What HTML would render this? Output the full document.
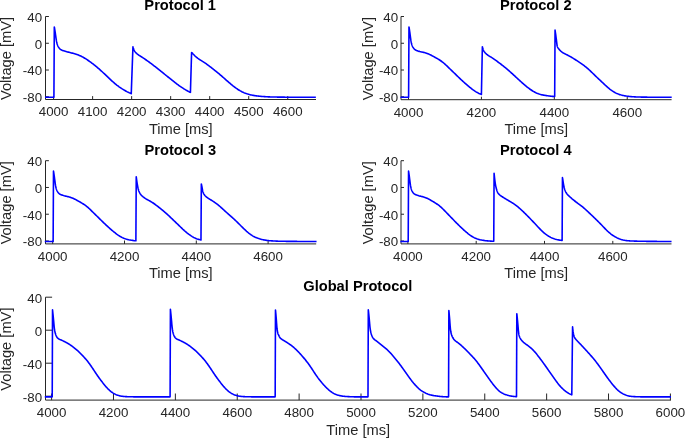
<!DOCTYPE html>
<html><head><meta charset="utf-8"><title>Protocols</title>
<style>html,body{margin:0;padding:0;background:#fff}body{width:685px;height:438px;overflow:hidden}</style>
</head><body>
<svg width="685" height="438" viewBox="0 0 685 438" style="display:block;font-family:'Liberation Sans', Arial, Helvetica, sans-serif">
<rect width="685" height="438" fill="#fff"/>
<g><path d="M45.5 16.5V99.5H316" fill="none" stroke="#262626" stroke-width="1"/>
<path d="M45.5 16.50h3.4M45.5 43.26h3.4M45.5 70.02h3.4M45.5 96.78h3.4M53.60 99.5v-3.4M92.62 99.5v-3.4M131.65 99.5v-3.4M170.67 99.5v-3.4M209.70 99.5v-3.4M248.72 99.5v-3.4M287.75 99.5v-3.4" fill="none" stroke="#262626" stroke-width="1"/>
<polyline points="45.01,97.32 53.91,97.32 54.30,26.94 54.50,27.99 54.69,29.12 54.89,30.31 55.08,31.57 55.28,32.93 55.47,34.30 55.67,35.63 55.86,37.02 56.06,38.42 56.25,39.74 56.45,40.94 56.64,41.92 56.84,42.74 57.03,43.49 57.23,44.17 57.42,44.78 57.62,45.32 57.81,45.80 58.01,46.22 58.20,46.61 58.40,46.94 58.60,47.25 58.79,47.54 58.99,47.82 59.18,48.08 59.38,48.32 59.57,48.55 59.77,48.76 59.96,48.94 60.16,49.11 60.35,49.27 60.55,49.42 60.74,49.56 60.94,49.70 61.13,49.81 61.33,49.92 61.52,50.02 61.72,50.12 61.91,50.20 62.11,50.28 62.30,50.36 62.50,50.42 62.69,50.50 62.89,50.56 63.08,50.63 63.28,50.69 63.47,50.75 63.67,50.80 64.45,51.03 65.23,51.26 66.01,51.49 66.79,51.71 67.57,51.92 68.35,52.13 69.13,52.33 69.91,52.53 70.69,52.72 71.47,52.92 72.25,53.12 73.03,53.32 73.81,53.54 74.60,53.76 75.38,53.99 76.16,54.24 76.94,54.50 77.72,54.78 78.50,55.08 79.28,55.40 80.06,55.74 80.84,56.09 81.62,56.47 82.40,56.87 83.18,57.29 83.96,57.73 84.74,58.20 85.52,58.68 86.30,59.18 87.08,59.70 87.86,60.23 88.64,60.77 89.42,61.32 90.21,61.87 90.99,62.44 91.77,63.02 92.55,63.60 93.33,64.20 94.11,64.81 94.89,65.43 95.67,66.06 96.45,66.70 97.23,67.36 98.01,68.03 98.79,68.70 99.57,69.39 100.35,70.09 101.13,70.80 101.91,71.51 102.69,72.23 103.47,72.96 104.25,73.69 105.03,74.42 105.82,75.16 106.60,75.91 107.38,76.66 108.16,77.40 108.94,78.15 109.72,78.89 110.50,79.63 111.28,80.36 112.06,81.07 112.84,81.77 113.62,82.47 114.40,83.14 115.18,83.79 115.96,84.43 116.74,85.05 117.52,85.64 118.30,86.22 119.08,86.79 119.86,87.33 120.64,87.86 121.43,88.38 122.21,88.89 122.99,89.37 123.77,89.84 124.55,90.30 125.33,90.75 126.11,91.18 126.89,91.60 127.67,91.99 128.45,92.37 129.23,92.74 130.01,93.08 130.79,93.41 131.26,93.60 132.94,46.74 133.13,47.50 133.33,48.22 133.52,48.88 133.72,49.43 133.91,49.87 134.11,50.26 134.30,50.63 134.50,50.95 134.69,51.25 134.89,51.53 135.08,51.78 135.28,52.02 135.47,52.25 135.67,52.47 135.86,52.69 136.06,52.89 136.25,53.08 136.45,53.27 136.65,53.46 136.84,53.63 137.04,53.80 137.23,53.96 137.43,54.12 137.62,54.28 137.82,54.43 138.01,54.58 138.21,54.73 138.40,54.87 138.60,55.01 138.79,55.15 138.99,55.29 139.18,55.42 139.38,55.54 139.57,55.66 139.77,55.78 139.96,55.90 140.16,56.02 140.35,56.14 140.55,56.26 140.74,56.38 140.94,56.51 141.13,56.63 141.33,56.76 141.52,56.89 141.72,57.01 141.91,57.14 142.11,57.27 142.30,57.40 143.08,57.91 143.86,58.43 144.65,58.95 145.43,59.49 146.21,60.03 146.99,60.57 147.77,61.12 148.55,61.68 149.33,62.24 150.11,62.81 150.89,63.38 151.67,63.97 152.45,64.55 153.23,65.15 154.01,65.76 154.79,66.37 155.57,66.98 156.35,67.60 157.13,68.23 157.91,68.86 158.69,69.48 159.47,70.11 160.26,70.74 161.04,71.36 161.82,71.99 162.60,72.62 163.38,73.24 164.16,73.87 164.94,74.50 165.72,75.12 166.50,75.75 167.28,76.38 168.06,77.00 168.84,77.62 169.62,78.24 170.40,78.86 171.18,79.48 171.96,80.10 172.74,80.72 173.52,81.34 174.30,81.95 175.08,82.57 175.87,83.18 176.65,83.79 177.43,84.38 178.21,84.97 178.99,85.54 179.77,86.10 180.55,86.65 181.33,87.18 182.11,87.69 182.89,88.20 183.67,88.69 184.45,89.15 185.23,89.62 186.01,90.07 186.79,90.51 187.57,90.95 188.35,91.37 189.13,91.78 189.91,92.16 190.42,92.40 191.59,52.49 191.79,52.66 191.98,52.83 192.18,53.01 192.37,53.20 192.57,53.39 192.76,53.59 192.96,53.79 193.15,54.00 193.35,54.20 193.54,54.41 193.74,54.61 193.93,54.82 194.13,55.03 194.32,55.24 194.52,55.44 194.71,55.64 194.91,55.84 195.10,56.02 195.30,56.21 195.49,56.39 195.69,56.55 195.89,56.73 196.08,56.89 196.28,57.05 196.47,57.22 196.67,57.38 196.86,57.54 197.06,57.69 197.25,57.84 197.45,57.99 197.64,58.14 197.84,58.29 198.03,58.43 198.23,58.57 198.42,58.71 198.62,58.85 198.81,58.99 199.01,59.13 199.20,59.26 199.40,59.39 199.59,59.52 199.79,59.65 199.98,59.78 200.18,59.90 200.37,60.03 200.57,60.15 200.76,60.27 200.96,60.39 201.74,60.87 202.52,61.34 203.30,61.83 204.08,62.34 204.86,62.86 205.64,63.40 206.42,63.95 207.20,64.53 207.98,65.10 208.76,65.68 209.54,66.27 210.32,66.88 211.10,67.48 211.89,68.09 212.67,68.70 213.45,69.31 214.23,69.93 215.01,70.55 215.79,71.18 216.57,71.81 217.35,72.44 218.13,73.08 218.91,73.73 219.69,74.39 220.47,75.06 221.25,75.73 222.03,76.41 222.81,77.09 223.59,77.77 224.37,78.46 225.15,79.15 225.93,79.84 226.71,80.53 227.50,81.21 228.28,81.89 229.06,82.56 229.84,83.23 230.62,83.89 231.40,84.54 232.18,85.17 232.96,85.80 233.74,86.40 234.52,87.01 235.30,87.58 236.08,88.15 236.86,88.69 237.64,89.22 238.42,89.72 239.20,90.20 239.98,90.67 240.76,91.10 241.54,91.52 242.32,91.92 243.11,92.28 243.89,92.64 244.67,92.97 245.45,93.27 246.23,93.57 247.01,93.84 247.79,94.08 248.57,94.32 249.35,94.53 250.13,94.73 250.91,94.92 251.69,95.09 252.47,95.25 253.25,95.40 254.03,95.54 254.81,95.66 255.59,95.77 256.37,95.88 257.15,95.98 257.93,96.06 258.72,96.15 259.50,96.23 260.28,96.31 261.06,96.38 261.84,96.45 262.62,96.51 263.40,96.57 264.18,96.63 264.96,96.67 265.74,96.73 266.52,96.77 267.30,96.81 268.08,96.85 268.86,96.88 269.64,96.91 270.42,96.93 271.20,96.95 271.98,96.97 272.76,96.99 273.54,97.01 274.33,97.03 275.11,97.05 275.89,97.06 276.67,97.07 277.45,97.09 278.23,97.10 279.01,97.11 279.79,97.12 280.57,97.13 281.35,97.14 282.13,97.15 282.91,97.16 283.69,97.17 284.47,97.17 285.25,97.18 286.03,97.19 286.81,97.19 287.59,97.20 288.37,97.21 289.15,97.21 289.94,97.22 290.72,97.23 291.50,97.23 292.28,97.24 293.06,97.25 293.84,97.25 294.62,97.26 295.40,97.27 296.18,97.27 296.96,97.28 297.74,97.28 298.52,97.28 299.30,97.29 300.08,97.30 300.86,97.30 301.64,97.30 302.42,97.30 303.20,97.30 303.98,97.31 304.76,97.31 305.55,97.31 306.33,97.32 307.11,97.32 307.89,97.32 308.67,97.32 309.45,97.32 310.23,97.32 311.01,97.32 311.79,97.32 312.57,97.32 313.35,97.32 314.13,97.32 314.91,97.32 315.69,97.32 315.85,97.32" fill="none" stroke="#0000ff" stroke-width="1.6" stroke-linejoin="round"/>
<text x="42.1" y="21.80" font-size="13.33" text-anchor="end" fill="#262626">40</text>
<text x="42.1" y="48.56" font-size="13.33" text-anchor="end" fill="#262626">0</text>
<text x="42.1" y="75.32" font-size="13.33" text-anchor="end" fill="#262626">-40</text>
<text x="42.1" y="102.08" font-size="13.33" text-anchor="end" fill="#262626">-80</text>
<text x="53.60" y="116.30" font-size="13.33" text-anchor="middle" fill="#262626">4000</text>
<text x="92.62" y="116.30" font-size="13.33" text-anchor="middle" fill="#262626">4100</text>
<text x="131.65" y="116.30" font-size="13.33" text-anchor="middle" fill="#262626">4200</text>
<text x="170.67" y="116.30" font-size="13.33" text-anchor="middle" fill="#262626">4300</text>
<text x="209.70" y="116.30" font-size="13.33" text-anchor="middle" fill="#262626">4400</text>
<text x="248.72" y="116.30" font-size="13.33" text-anchor="middle" fill="#262626">4500</text>
<text x="287.75" y="116.30" font-size="13.33" text-anchor="middle" fill="#262626">4600</text>
<text x="180.8" y="133.9" font-size="14.67" text-anchor="middle" fill="#262626">Time [ms]</text>
<text transform="translate(11.4 58.5) rotate(-90)" font-size="14.67" text-anchor="middle" fill="#262626">Voltage [mV]</text>
<text x="180.2" y="10.3" font-size="14.67" font-weight="bold" text-anchor="middle" fill="#000">Protocol 1</text></g>
<g><path d="M401.0 16.5V99.7H671.6" fill="none" stroke="#262626" stroke-width="1"/>
<path d="M401.0 16.50h3.0M401.0 43.26h3.0M401.0 70.02h3.0M401.0 96.78h3.0M408.50 99.7v-3.0M481.41 99.7v-3.0M554.32 99.7v-3.0M627.23 99.7v-3.0" fill="none" stroke="#262626" stroke-width="1"/>
<polyline points="400.48,97.32 408.61,97.32 408.97,26.94 409.16,27.99 409.34,29.12 409.52,30.31 409.70,31.57 409.89,32.93 410.07,34.30 410.25,35.63 410.43,37.02 410.61,38.42 410.80,39.74 410.98,40.94 411.16,41.92 411.34,42.74 411.53,43.49 411.71,44.18 411.89,44.79 412.07,45.33 412.25,45.80 412.44,46.22 412.62,46.60 412.80,46.93 412.98,47.24 413.17,47.52 413.35,47.78 413.53,48.02 413.71,48.26 413.90,48.50 414.08,48.72 414.26,48.93 414.44,49.13 414.62,49.31 414.81,49.48 414.99,49.62 415.17,49.76 415.35,49.88 415.54,49.98 415.72,50.08 415.90,50.18 416.08,50.27 416.26,50.35 416.45,50.44 416.63,50.51 416.81,50.59 416.99,50.66 417.18,50.73 417.36,50.80 417.54,50.86 417.72,50.92 418.45,51.15 419.18,51.36 419.91,51.56 420.64,51.74 421.37,51.91 422.10,52.07 422.83,52.23 423.56,52.40 424.29,52.58 425.01,52.77 425.74,52.97 426.47,53.19 427.20,53.44 427.93,53.72 428.66,54.02 429.39,54.36 430.12,54.71 430.85,55.07 431.58,55.46 432.31,55.84 433.03,56.23 433.76,56.63 434.49,57.03 435.22,57.43 435.95,57.84 436.68,58.25 437.41,58.68 438.14,59.12 438.87,59.56 439.60,60.02 440.33,60.50 441.05,61.00 441.78,61.52 442.51,62.07 443.24,62.65 443.97,63.26 444.70,63.91 445.43,64.57 446.16,65.25 446.89,65.95 447.62,66.65 448.35,67.36 449.07,68.07 449.80,68.77 450.53,69.47 451.26,70.17 451.99,70.87 452.72,71.57 453.45,72.27 454.18,72.98 454.91,73.69 455.64,74.40 456.37,75.11 457.09,75.82 457.82,76.52 458.55,77.23 459.28,77.93 460.01,78.62 460.74,79.31 461.47,79.99 462.20,80.67 462.93,81.34 463.66,82.00 464.39,82.66 465.11,83.31 465.84,83.95 466.57,84.58 467.30,85.21 468.03,85.84 468.76,86.45 469.49,87.05 470.22,87.65 470.95,88.23 471.68,88.79 472.41,89.35 473.13,89.88 473.86,90.39 474.59,90.89 475.32,91.36 476.05,91.82 476.78,92.25 477.51,92.66 478.24,93.05 478.97,93.41 479.70,93.74 480.43,94.06 481.15,94.34 481.41,94.43 482.36,46.74 482.54,47.50 482.72,48.22 482.90,48.88 483.09,49.43 483.27,49.87 483.45,50.26 483.63,50.63 483.82,50.95 484.00,51.25 484.18,51.53 484.36,51.78 484.55,52.02 484.73,52.25 484.91,52.47 485.09,52.69 485.27,52.89 485.46,53.09 485.64,53.27 485.82,53.46 486.00,53.64 486.19,53.81 486.37,53.97 486.55,54.13 486.73,54.29 486.91,54.44 487.10,54.59 487.28,54.73 487.46,54.88 487.64,55.01 487.83,55.15 488.01,55.29 488.19,55.42 488.37,55.54 488.56,55.66 488.74,55.78 488.92,55.89 489.10,56.00 489.28,56.11 489.47,56.23 489.65,56.33 489.83,56.43 490.01,56.54 490.20,56.64 490.38,56.75 490.56,56.85 490.74,56.95 490.92,57.05 491.11,57.16 491.84,57.60 492.57,58.06 493.29,58.56 494.02,59.08 494.75,59.60 495.48,60.14 496.21,60.68 496.94,61.22 497.67,61.76 498.40,62.31 499.13,62.86 499.86,63.40 500.59,63.96 501.31,64.51 502.04,65.08 502.77,65.64 503.50,66.21 504.23,66.79 504.96,67.38 505.69,67.97 506.42,68.57 507.15,69.19 507.88,69.81 508.61,70.45 509.33,71.08 510.06,71.73 510.79,72.39 511.52,73.05 512.25,73.71 512.98,74.38 513.71,75.04 514.44,75.71 515.17,76.38 515.90,77.05 516.63,77.72 517.35,78.39 518.08,79.06 518.81,79.73 519.54,80.41 520.27,81.08 521.00,81.75 521.73,82.41 522.46,83.07 523.19,83.71 523.92,84.35 524.65,84.98 525.37,85.59 526.10,86.20 526.83,86.79 527.56,87.36 528.29,87.92 529.02,88.47 529.75,89.01 530.48,89.52 531.21,90.02 531.94,90.50 532.67,90.96 533.39,91.40 534.12,91.81 534.85,92.20 535.58,92.57 536.31,92.91 537.04,93.23 537.77,93.52 538.50,93.80 539.23,94.05 539.96,94.28 540.69,94.49 541.41,94.68 542.14,94.85 542.87,95.01 543.60,95.15 544.33,95.29 545.06,95.41 545.79,95.52 546.52,95.63 547.25,95.74 547.98,95.83 548.71,95.93 549.44,96.02 550.16,96.11 550.89,96.19 551.62,96.27 552.35,96.35 553.08,96.42 553.81,96.48 554.54,96.54 554.68,96.55 555.05,30.15 555.23,31.35 555.41,32.58 555.60,33.87 555.78,35.21 555.96,36.58 556.14,38.00 556.33,39.45 556.51,40.87 556.69,42.38 556.87,43.96 557.05,45.32 557.24,46.20 557.42,46.71 557.60,47.13 557.78,47.47 557.97,47.77 558.15,48.03 558.33,48.26 558.51,48.50 558.69,48.75 558.88,48.99 559.06,49.23 559.24,49.46 559.42,49.68 559.61,49.89 559.79,50.09 559.97,50.28 560.15,50.47 560.34,50.65 560.52,50.83 560.70,51.00 560.88,51.17 561.06,51.33 561.25,51.50 561.43,51.65 561.61,51.80 561.79,51.94 561.98,52.08 562.16,52.22 562.34,52.35 562.52,52.47 562.70,52.59 562.89,52.71 563.07,52.82 563.25,52.93 563.43,53.03 563.62,53.13 563.80,53.23 564.53,53.62 565.26,54.00 565.99,54.37 566.71,54.73 567.44,55.09 568.17,55.46 568.90,55.84 569.63,56.25 570.36,56.65 571.09,57.06 571.82,57.49 572.55,57.92 573.28,58.37 574.01,58.82 574.73,59.28 575.46,59.74 576.19,60.20 576.92,60.67 577.65,61.13 578.38,61.60 579.11,62.08 579.84,62.57 580.57,63.06 581.30,63.56 582.03,64.08 582.75,64.61 583.48,65.16 584.21,65.71 584.94,66.29 585.67,66.87 586.40,67.47 587.13,68.09 587.86,68.72 588.59,69.36 589.32,70.01 590.05,70.69 590.77,71.37 591.50,72.07 592.23,72.77 592.96,73.48 593.69,74.19 594.42,74.90 595.15,75.61 595.88,76.32 596.61,77.02 597.34,77.71 598.07,78.40 598.80,79.09 599.52,79.78 600.25,80.46 600.98,81.15 601.71,81.83 602.44,82.52 603.17,83.20 603.90,83.89 604.63,84.56 605.36,85.24 606.09,85.90 606.82,86.56 607.54,87.20 608.27,87.82 609.00,88.42 609.73,89.01 610.46,89.57 611.19,90.12 611.92,90.64 612.65,91.13 613.38,91.60 614.11,92.05 614.84,92.46 615.56,92.85 616.29,93.21 617.02,93.54 617.75,93.84 618.48,94.12 619.21,94.38 619.94,94.63 620.67,94.85 621.40,95.05 622.13,95.23 622.86,95.41 623.58,95.56 624.31,95.71 625.04,95.84 625.77,95.96 626.50,96.08 627.23,96.18 627.96,96.27 628.69,96.36 629.42,96.44 630.15,96.51 630.88,96.58 631.60,96.65 632.33,96.70 633.06,96.75 633.79,96.81 634.52,96.85 635.25,96.89 635.98,96.93 636.71,96.96 637.44,96.99 638.17,97.01 638.90,97.04 639.62,97.05 640.35,97.07 641.08,97.09 641.81,97.10 642.54,97.11 643.27,97.13 644.00,97.13 644.73,97.15 645.46,97.15 646.19,97.16 646.92,97.17 647.64,97.18 648.37,97.19 649.10,97.19 649.83,97.20 650.56,97.21 651.29,97.21 652.02,97.22 652.75,97.22 653.48,97.23 654.21,97.23 654.94,97.23 655.66,97.24 656.39,97.25 657.12,97.25 657.85,97.25 658.58,97.25 659.31,97.26 660.04,97.26 660.77,97.27 661.50,97.27 662.23,97.28 662.96,97.28 663.68,97.28 664.41,97.28 665.14,97.29 665.87,97.29 666.60,97.29 667.33,97.30 668.06,97.30 668.79,97.30 669.52,97.30 670.25,97.30 670.98,97.30 671.71,97.31" fill="none" stroke="#0000ff" stroke-width="1.6" stroke-linejoin="round"/>
<text x="398.2" y="21.80" font-size="13.33" text-anchor="end" fill="#262626">40</text>
<text x="398.2" y="48.56" font-size="13.33" text-anchor="end" fill="#262626">0</text>
<text x="398.2" y="75.32" font-size="13.33" text-anchor="end" fill="#262626">-40</text>
<text x="398.2" y="102.08" font-size="13.33" text-anchor="end" fill="#262626">-80</text>
<text x="408.50" y="116.50" font-size="13.33" text-anchor="middle" fill="#262626">4000</text>
<text x="481.41" y="116.50" font-size="13.33" text-anchor="middle" fill="#262626">4200</text>
<text x="554.32" y="116.50" font-size="13.33" text-anchor="middle" fill="#262626">4400</text>
<text x="627.23" y="116.50" font-size="13.33" text-anchor="middle" fill="#262626">4600</text>
<text x="536.3" y="134.1" font-size="14.67" text-anchor="middle" fill="#262626">Time [ms]</text>
<text transform="translate(372.8 58.6) rotate(-90)" font-size="14.67" text-anchor="middle" fill="#262626">Voltage [mV]</text>
<text x="535.8" y="10.3" font-size="14.67" font-weight="bold" text-anchor="middle" fill="#000">Protocol 2</text></g>
<g><path d="M45.5 160.7V243.9H316.2" fill="none" stroke="#262626" stroke-width="1"/>
<path d="M45.5 160.70h3.4M45.5 187.46h3.4M45.5 214.22h3.4M45.5 240.98h3.4M52.70 243.9v-3.4M124.50 243.9v-3.4M196.30 243.9v-3.4M268.10 243.9v-3.4" fill="none" stroke="#262626" stroke-width="1"/>
<polyline points="44.80,241.52 53.13,241.52 53.49,171.14 53.67,172.19 53.85,173.32 54.03,174.51 54.21,175.77 54.39,177.13 54.57,178.50 54.75,179.83 54.93,181.22 55.11,182.62 55.28,183.94 55.46,185.14 55.64,186.12 55.82,186.94 56.00,187.69 56.18,188.38 56.36,188.99 56.54,189.53 56.72,190.00 56.90,190.42 57.08,190.80 57.26,191.13 57.44,191.44 57.62,191.72 57.80,191.98 57.98,192.22 58.16,192.46 58.34,192.70 58.52,192.92 58.70,193.13 58.87,193.33 59.05,193.51 59.23,193.68 59.41,193.82 59.59,193.96 59.77,194.08 59.95,194.18 60.13,194.28 60.31,194.38 60.49,194.47 60.67,194.55 60.85,194.64 61.03,194.71 61.21,194.79 61.39,194.86 61.57,194.93 61.75,195.00 61.93,195.06 62.11,195.12 62.82,195.35 63.54,195.56 64.26,195.76 64.98,195.94 65.70,196.11 66.41,196.27 67.13,196.43 67.85,196.60 68.57,196.78 69.29,196.97 70.00,197.17 70.72,197.39 71.44,197.64 72.16,197.92 72.88,198.22 73.59,198.56 74.31,198.91 75.03,199.27 75.75,199.66 76.47,200.04 77.18,200.43 77.90,200.83 78.62,201.23 79.34,201.63 80.06,202.04 80.77,202.45 81.49,202.88 82.21,203.32 82.93,203.76 83.65,204.22 84.36,204.70 85.08,205.20 85.80,205.72 86.52,206.27 87.24,206.85 87.95,207.46 88.67,208.11 89.39,208.77 90.11,209.45 90.83,210.15 91.54,210.85 92.26,211.56 92.98,212.27 93.70,212.97 94.42,213.67 95.13,214.37 95.85,215.07 96.57,215.77 97.29,216.47 98.01,217.18 98.72,217.89 99.44,218.60 100.16,219.31 100.88,220.02 101.60,220.72 102.31,221.43 103.03,222.13 103.75,222.82 104.47,223.51 105.19,224.19 105.90,224.87 106.62,225.54 107.34,226.20 108.06,226.86 108.78,227.51 109.49,228.15 110.21,228.78 110.93,229.41 111.65,230.04 112.37,230.65 113.08,231.25 113.80,231.85 114.52,232.43 115.24,232.99 115.96,233.55 116.67,234.08 117.39,234.59 118.11,235.09 118.83,235.56 119.55,236.02 120.26,236.45 120.98,236.86 121.70,237.25 122.42,237.61 123.14,237.94 123.85,238.26 124.57,238.54 125.29,238.80 126.01,239.03 126.73,239.24 127.44,239.44 128.16,239.62 128.88,239.78 129.60,239.92 130.32,240.06 131.03,240.19 131.75,240.30 132.47,240.41 133.19,240.51 133.91,240.61 134.62,240.69 135.34,240.77 135.88,240.82 136.24,176.76 136.42,178.19 136.60,179.57 136.78,180.87 136.96,182.11 137.14,183.29 137.32,184.42 137.50,185.49 137.68,186.46 137.85,187.35 138.03,188.19 138.21,188.95 138.39,189.60 138.57,190.17 138.75,190.68 138.93,191.15 139.11,191.58 139.29,191.99 139.47,192.37 139.65,192.73 139.83,193.08 140.01,193.40 140.19,193.70 140.37,193.96 140.55,194.21 140.73,194.45 140.91,194.67 141.09,194.89 141.27,195.09 141.44,195.27 141.62,195.46 141.80,195.64 141.98,195.82 142.16,195.98 142.34,196.15 142.52,196.31 142.70,196.47 142.88,196.63 143.06,196.78 143.24,196.93 143.42,197.07 143.60,197.21 143.78,197.35 143.96,197.50 144.14,197.63 144.32,197.76 144.50,197.89 144.68,198.01 144.86,198.14 145.57,198.61 146.29,199.05 147.01,199.46 147.73,199.85 148.45,200.24 149.16,200.63 149.88,201.02 150.60,201.44 151.32,201.87 152.04,202.31 152.75,202.77 153.47,203.24 154.19,203.74 154.91,204.25 155.63,204.78 156.34,205.32 157.06,205.88 157.78,206.43 158.50,207.00 159.22,207.57 159.93,208.15 160.65,208.72 161.37,209.30 162.09,209.88 162.81,210.47 163.52,211.07 164.24,211.68 164.96,212.29 165.68,212.92 166.40,213.55 167.11,214.20 167.83,214.86 168.55,215.52 169.27,216.19 169.99,216.88 170.70,217.56 171.42,218.25 172.14,218.94 172.86,219.63 173.58,220.31 174.29,221.00 175.01,221.69 175.73,222.37 176.45,223.06 177.17,223.75 177.88,224.44 178.60,225.13 179.32,225.83 180.04,226.52 180.76,227.22 181.47,227.91 182.19,228.60 182.91,229.29 183.63,229.95 184.35,230.62 185.06,231.25 185.78,231.87 186.50,232.48 187.22,233.07 187.94,233.63 188.65,234.18 189.37,234.70 190.09,235.21 190.81,235.70 191.53,236.16 192.24,236.60 192.96,237.02 193.68,237.41 194.40,237.77 195.12,238.10 195.83,238.40 196.55,238.69 197.27,238.95 197.99,239.18 198.71,239.39 199.42,239.59 200.14,239.76 200.86,239.92 200.97,239.95 201.33,183.98 201.51,184.78 201.69,185.62 201.86,186.49 202.04,187.39 202.22,188.31 202.40,189.35 202.58,190.42 202.76,191.28 202.94,191.85 203.12,192.34 203.30,192.80 203.48,193.21 203.66,193.57 203.84,193.91 204.02,194.22 204.20,194.49 204.38,194.75 204.56,194.99 204.74,195.22 204.92,195.44 205.10,195.65 205.27,195.85 205.45,196.04 205.63,196.22 205.81,196.39 205.99,196.56 206.17,196.72 206.35,196.87 206.53,197.02 206.71,197.16 206.89,197.30 207.07,197.43 207.25,197.57 207.43,197.70 207.61,197.83 207.79,197.96 207.97,198.09 208.15,198.22 208.33,198.34 208.51,198.46 208.69,198.58 208.87,198.70 209.04,198.81 209.22,198.92 209.40,199.03 209.58,199.14 209.76,199.25 209.94,199.35 210.66,199.78 211.38,200.20 212.10,200.64 212.81,201.09 213.53,201.56 214.25,202.04 214.97,202.55 215.69,203.07 216.40,203.60 217.12,204.15 217.84,204.71 218.56,205.30 219.28,205.89 219.99,206.51 220.71,207.14 221.43,207.78 222.15,208.44 222.87,209.10 223.58,209.76 224.30,210.43 225.02,211.09 225.74,211.74 226.46,212.39 227.17,213.02 227.89,213.66 228.61,214.28 229.33,214.90 230.05,215.52 230.76,216.15 231.48,216.78 232.20,217.42 232.92,218.07 233.64,218.73 234.35,219.40 235.07,220.08 235.79,220.77 236.51,221.46 237.23,222.16 237.94,222.87 238.66,223.58 239.38,224.30 240.10,225.02 240.82,225.73 241.53,226.46 242.25,227.17 242.97,227.88 243.69,228.58 244.41,229.28 245.12,229.95 245.84,230.62 246.56,231.27 247.28,231.89 248.00,232.50 248.71,233.09 249.43,233.65 250.15,234.20 250.87,234.71 251.59,235.19 252.30,235.65 253.02,236.08 253.74,236.47 254.46,236.84 255.18,237.18 255.89,237.49 256.61,237.80 257.33,238.07 258.05,238.33 258.77,238.57 259.48,238.81 260.20,239.02 260.92,239.22 261.64,239.41 262.36,239.59 263.07,239.75 263.79,239.90 264.51,240.04 265.23,240.16 265.95,240.28 266.66,240.38 267.38,240.47 268.10,240.55 268.82,240.63 269.54,240.69 270.25,240.75 270.97,240.81 271.69,240.86 272.41,240.91 273.13,240.95 273.84,241.00 274.56,241.04 275.28,241.07 276.00,241.11 276.72,241.13 277.43,241.16 278.15,241.19 278.87,241.21 279.59,241.23 280.31,241.24 281.02,241.26 281.74,241.27 282.46,241.28 283.18,241.29 283.90,241.31 284.61,241.31 285.33,241.32 286.05,241.33 286.77,241.34 287.49,241.35 288.20,241.35 288.92,241.36 289.64,241.37 290.36,241.37 291.08,241.38 291.79,241.39 292.51,241.39 293.23,241.40 293.95,241.41 294.67,241.41 295.38,241.41 296.10,241.42 296.82,241.42 297.54,241.43 298.26,241.43 298.97,241.43 299.69,241.44 300.41,241.44 301.13,241.45 301.85,241.45 302.56,241.45 303.28,241.45 304.00,241.46 304.72,241.46 305.44,241.47 306.15,241.47 306.87,241.48 307.59,241.48 308.31,241.48 309.03,241.48 309.74,241.48 310.46,241.49 311.18,241.49 311.90,241.50 312.62,241.50 313.33,241.50 314.05,241.50 314.77,241.50 315.49,241.50 316.21,241.51 316.56,241.51" fill="none" stroke="#0000ff" stroke-width="1.6" stroke-linejoin="round"/>
<text x="42.1" y="166.00" font-size="13.33" text-anchor="end" fill="#262626">40</text>
<text x="42.1" y="192.76" font-size="13.33" text-anchor="end" fill="#262626">0</text>
<text x="42.1" y="219.52" font-size="13.33" text-anchor="end" fill="#262626">-40</text>
<text x="42.1" y="246.28" font-size="13.33" text-anchor="end" fill="#262626">-80</text>
<text x="52.70" y="260.70" font-size="13.33" text-anchor="middle" fill="#262626">4000</text>
<text x="124.50" y="260.70" font-size="13.33" text-anchor="middle" fill="#262626">4200</text>
<text x="196.30" y="260.70" font-size="13.33" text-anchor="middle" fill="#262626">4400</text>
<text x="268.10" y="260.70" font-size="13.33" text-anchor="middle" fill="#262626">4600</text>
<text x="180.8" y="278.3" font-size="14.67" text-anchor="middle" fill="#262626">Time [ms]</text>
<text transform="translate(11.4 202.8) rotate(-90)" font-size="14.67" text-anchor="middle" fill="#262626">Voltage [mV]</text>
<text x="180.3" y="154.5" font-size="14.67" font-weight="bold" text-anchor="middle" fill="#000">Protocol 3</text></g>
<g><path d="M401.0 160.7V243.9H671.5" fill="none" stroke="#262626" stroke-width="1"/>
<path d="M401.0 160.70h3.0M401.0 187.46h3.0M401.0 214.22h3.0M401.0 240.98h3.0M407.90 243.9v-3.0M476.20 243.9v-3.0M544.50 243.9v-3.0M612.80 243.9v-3.0" fill="none" stroke="#262626" stroke-width="1"/>
<polyline points="400.39,241.52 408.21,241.52 408.55,171.14 408.72,172.19 408.89,173.32 409.06,174.51 409.23,175.77 409.40,177.13 409.57,178.50 409.74,179.83 409.91,181.22 410.09,182.62 410.26,183.94 410.43,185.14 410.60,186.12 410.77,186.94 410.94,187.69 411.11,188.38 411.28,188.99 411.45,189.53 411.62,190.00 411.79,190.42 411.96,190.80 412.13,191.13 412.31,191.44 412.48,191.72 412.65,191.98 412.82,192.22 412.99,192.46 413.16,192.70 413.33,192.92 413.50,193.13 413.67,193.33 413.84,193.51 414.01,193.68 414.18,193.82 414.35,193.96 414.53,194.08 414.70,194.18 414.87,194.28 415.04,194.38 415.21,194.47 415.38,194.55 415.55,194.64 415.72,194.71 415.89,194.79 416.06,194.86 416.23,194.93 416.40,195.00 416.57,195.06 416.74,195.12 417.43,195.35 418.11,195.56 418.79,195.76 419.48,195.94 420.16,196.11 420.84,196.27 421.53,196.43 422.21,196.60 422.89,196.78 423.57,196.97 424.26,197.17 424.94,197.39 425.62,197.64 426.31,197.92 426.99,198.22 427.67,198.56 428.36,198.91 429.04,199.27 429.72,199.66 430.40,200.04 431.09,200.43 431.77,200.83 432.45,201.23 433.14,201.63 433.82,202.04 434.50,202.45 435.19,202.88 435.87,203.32 436.55,203.76 437.23,204.22 437.92,204.70 438.60,205.20 439.28,205.72 439.97,206.27 440.65,206.85 441.33,207.46 442.02,208.11 442.70,208.77 443.38,209.45 444.06,210.15 444.75,210.85 445.43,211.56 446.11,212.27 446.80,212.97 447.48,213.67 448.16,214.37 448.85,215.07 449.53,215.77 450.21,216.47 450.89,217.18 451.58,217.89 452.26,218.60 452.94,219.31 453.63,220.02 454.31,220.72 454.99,221.43 455.68,222.13 456.36,222.82 457.04,223.51 457.72,224.19 458.41,224.87 459.09,225.54 459.77,226.20 460.46,226.86 461.14,227.51 461.82,228.15 462.51,228.78 463.19,229.41 463.87,230.04 464.55,230.65 465.24,231.25 465.92,231.85 466.60,232.43 467.29,232.99 467.97,233.55 468.65,234.08 469.34,234.59 470.02,235.09 470.70,235.56 471.38,236.02 472.07,236.45 472.75,236.86 473.43,237.25 474.12,237.61 474.80,237.94 475.48,238.26 476.17,238.54 476.85,238.80 477.53,239.03 478.21,239.24 478.90,239.44 479.58,239.62 480.26,239.78 480.95,239.92 481.63,240.06 482.31,240.19 483.00,240.30 483.68,240.41 484.36,240.51 485.04,240.61 485.73,240.69 486.41,240.77 487.09,240.84 487.78,240.90 488.46,240.96 489.14,241.01 489.83,241.07 490.51,241.11 491.19,241.15 491.87,241.19 492.56,241.22 493.24,241.25 493.75,241.27 494.09,173.21 494.27,175.01 494.44,176.72 494.61,178.30 494.78,179.77 494.95,181.14 495.12,182.44 495.29,183.62 495.46,184.65 495.63,185.55 495.80,186.36 495.97,187.11 496.14,187.80 496.31,188.46 496.49,189.11 496.66,189.73 496.83,190.31 497.00,190.83 497.17,191.29 497.34,191.70 497.51,192.08 497.68,192.42 497.85,192.73 498.02,193.01 498.19,193.27 498.36,193.49 498.53,193.71 498.70,193.91 498.88,194.10 499.05,194.28 499.22,194.46 499.39,194.62 499.56,194.79 499.73,194.95 499.90,195.10 500.07,195.25 500.24,195.39 500.41,195.52 500.58,195.65 500.75,195.78 500.92,195.90 501.10,196.02 501.27,196.13 501.44,196.24 501.61,196.35 501.78,196.46 501.95,196.57 502.12,196.67 502.29,196.78 502.97,197.20 503.66,197.62 504.34,198.06 505.02,198.49 505.71,198.91 506.39,199.34 507.07,199.75 507.75,200.16 508.44,200.56 509.12,200.96 509.80,201.36 510.49,201.76 511.17,202.16 511.85,202.57 512.54,203.00 513.22,203.44 513.90,203.89 514.58,204.37 515.27,204.85 515.95,205.36 516.63,205.89 517.32,206.43 518.00,206.99 518.68,207.57 519.37,208.16 520.05,208.76 520.73,209.38 521.41,210.01 522.10,210.64 522.78,211.29 523.46,211.94 524.15,212.60 524.83,213.26 525.51,213.94 526.20,214.61 526.88,215.29 527.56,215.98 528.24,216.67 528.93,217.36 529.61,218.07 530.29,218.77 530.98,219.48 531.66,220.19 532.34,220.90 533.03,221.62 533.71,222.33 534.39,223.06 535.07,223.78 535.76,224.50 536.44,225.23 537.12,225.96 537.81,226.70 538.49,227.43 539.17,228.16 539.86,228.88 540.54,229.59 541.22,230.28 541.90,230.95 542.59,231.59 543.27,232.22 543.95,232.80 544.64,233.37 545.32,233.91 546.00,234.42 546.69,234.91 547.37,235.38 548.05,235.82 548.73,236.25 549.42,236.65 550.10,237.03 550.78,237.39 551.47,237.73 552.15,238.04 552.83,238.32 553.52,238.58 554.20,238.82 554.88,239.04 555.56,239.24 556.25,239.42 556.93,239.59 557.61,239.74 558.30,239.88 558.98,240.01 559.66,240.12 560.35,240.23 561.03,240.33 561.71,240.42 562.12,240.47 562.46,177.56 562.63,178.59 562.80,179.66 562.98,180.79 563.15,182.00 563.32,183.11 563.49,184.10 563.66,185.04 563.83,185.91 564.00,186.72 564.17,187.46 564.34,188.12 564.51,188.74 564.68,189.30 564.85,189.81 565.02,190.28 565.19,190.72 565.37,191.13 565.54,191.52 565.71,191.88 565.88,192.22 566.05,192.52 566.22,192.81 566.39,193.06 566.56,193.31 566.73,193.57 566.90,193.82 567.07,194.06 567.24,194.28 567.41,194.48 567.59,194.67 567.76,194.85 567.93,195.03 568.10,195.19 568.27,195.36 568.44,195.52 568.61,195.68 568.78,195.84 568.95,196.00 569.12,196.15 569.29,196.30 569.46,196.45 569.63,196.61 569.81,196.76 569.98,196.91 570.15,197.07 570.32,197.23 570.49,197.38 570.66,197.54 571.34,198.16 572.02,198.78 572.71,199.37 573.39,199.93 574.07,200.47 574.76,201.00 575.44,201.51 576.12,202.02 576.81,202.52 577.49,203.02 578.17,203.52 578.85,204.02 579.54,204.53 580.22,205.03 580.90,205.56 581.59,206.10 582.27,206.65 582.95,207.22 583.64,207.80 584.32,208.40 585.00,209.02 585.68,209.63 586.37,210.26 587.05,210.90 587.73,211.52 588.42,212.17 589.10,212.80 589.78,213.44 590.47,214.08 591.15,214.72 591.83,215.37 592.51,216.02 593.20,216.68 593.88,217.33 594.56,217.99 595.25,218.65 595.93,219.32 596.61,219.99 597.30,220.66 597.98,221.33 598.66,222.01 599.34,222.70 600.03,223.39 600.71,224.09 601.39,224.79 602.08,225.51 602.76,226.22 603.44,226.94 604.13,227.66 604.81,228.38 605.49,229.09 606.17,229.77 606.86,230.45 607.54,231.11 608.22,231.73 608.91,232.34 609.59,232.93 610.27,233.48 610.96,234.02 611.64,234.52 612.32,235.02 613.00,235.49 613.69,235.94 614.37,236.37 615.05,236.79 615.74,237.17 616.42,237.53 617.10,237.88 617.79,238.19 618.47,238.48 619.15,238.76 619.83,239.01 620.52,239.24 621.20,239.46 621.88,239.66 622.57,239.85 623.25,240.02 623.93,240.17 624.62,240.30 625.30,240.42 625.98,240.53 626.66,240.61 627.35,240.69 628.03,240.75 628.71,240.81 629.40,240.85 630.08,240.90 630.76,240.93 631.45,240.97 632.13,241.00 632.81,241.03 633.49,241.05 634.18,241.08 634.86,241.10 635.54,241.13 636.23,241.15 636.91,241.16 637.59,241.18 638.28,241.19 638.96,241.21 639.64,241.23 640.32,241.23 641.01,241.25 641.69,241.26 642.37,241.27 643.06,241.28 643.74,241.29 644.42,241.30 645.11,241.31 645.79,241.32 646.47,241.33 647.15,241.33 647.84,241.34 648.52,241.35 649.20,241.36 649.89,241.37 650.57,241.37 651.25,241.38 651.94,241.39 652.62,241.39 653.30,241.39 653.98,241.40 654.67,241.41 655.35,241.41 656.03,241.41 656.72,241.42 657.40,241.43 658.08,241.43 658.77,241.43 659.45,241.44 660.13,241.44 660.81,241.45 661.50,241.45 662.18,241.45 662.86,241.45 663.55,241.46 664.23,241.46 664.91,241.47 665.60,241.47 666.28,241.48 666.96,241.48 667.64,241.48 668.33,241.48 669.01,241.48 669.69,241.49 670.38,241.49 671.06,241.50 671.54,241.50" fill="none" stroke="#0000ff" stroke-width="1.6" stroke-linejoin="round"/>
<text x="398.2" y="166.00" font-size="13.33" text-anchor="end" fill="#262626">40</text>
<text x="398.2" y="192.76" font-size="13.33" text-anchor="end" fill="#262626">0</text>
<text x="398.2" y="219.52" font-size="13.33" text-anchor="end" fill="#262626">-40</text>
<text x="398.2" y="246.28" font-size="13.33" text-anchor="end" fill="#262626">-80</text>
<text x="407.90" y="260.70" font-size="13.33" text-anchor="middle" fill="#262626">4000</text>
<text x="476.20" y="260.70" font-size="13.33" text-anchor="middle" fill="#262626">4200</text>
<text x="544.50" y="260.70" font-size="13.33" text-anchor="middle" fill="#262626">4400</text>
<text x="612.80" y="260.70" font-size="13.33" text-anchor="middle" fill="#262626">4600</text>
<text x="536.2" y="278.3" font-size="14.67" text-anchor="middle" fill="#262626">Time [ms]</text>
<text transform="translate(372.8 202.8) rotate(-90)" font-size="14.67" text-anchor="middle" fill="#262626">Voltage [mV]</text>
<text x="535.8" y="154.5" font-size="14.67" font-weight="bold" text-anchor="middle" fill="#000">Protocol 4</text></g>
<g><path d="M45.5 297.2V400.1H671" fill="none" stroke="#262626" stroke-width="1"/>
<path d="M45.5 297.20h6.6M45.5 330.20h6.6M45.5 363.20h6.6M45.5 396.20h6.6M51.60 400.1v-6.6M113.48 400.1v-6.6M175.36 400.1v-6.6M237.24 400.1v-6.6M299.12 400.1v-6.6M361.00 400.1v-6.6M422.88 400.1v-6.6M484.76 400.1v-6.6M546.64 400.1v-6.6M608.52 400.1v-6.6M670.40 400.1v-6.6" fill="none" stroke="#262626" stroke-width="1"/>
<polyline points="44.79,396.86 52.22,396.86 52.53,309.90 52.68,311.30 52.84,312.73 52.99,314.22 53.15,315.77 53.30,317.38 53.46,319.00 53.61,320.63 53.77,322.36 53.92,324.12 54.08,325.80 54.23,327.31 54.38,328.55 54.54,329.56 54.69,330.49 54.85,331.33 55.00,332.08 55.16,332.74 55.31,333.33 55.47,333.85 55.62,334.32 55.78,334.74 55.93,335.12 56.09,335.48 56.24,335.83 56.40,336.17 56.55,336.50 56.71,336.80 56.86,337.06 57.01,337.29 57.17,337.49 57.32,337.67 57.48,337.85 57.63,338.01 57.79,338.16 57.94,338.30 58.10,338.43 58.25,338.55 58.41,338.66 58.56,338.76 58.72,338.86 58.87,338.96 59.03,339.05 59.18,339.13 59.34,339.22 59.49,339.30 59.64,339.37 59.80,339.45 59.95,339.52 60.57,339.79 61.19,340.06 61.81,340.33 62.43,340.61 63.05,340.90 63.67,341.20 64.29,341.50 64.90,341.82 65.52,342.14 66.14,342.47 66.76,342.81 67.38,343.16 68.00,343.52 68.62,343.89 69.24,344.27 69.85,344.67 70.47,345.07 71.09,345.50 71.71,345.92 72.33,346.37 72.95,346.82 73.57,347.29 74.19,347.77 74.81,348.27 75.42,348.78 76.04,349.30 76.66,349.84 77.28,350.39 77.90,350.96 78.52,351.53 79.14,352.13 79.76,352.73 80.37,353.34 80.99,353.97 81.61,354.60 82.23,355.25 82.85,355.90 83.47,356.56 84.09,357.23 84.71,357.91 85.32,358.61 85.94,359.33 86.56,360.06 87.18,360.82 87.80,361.60 88.42,362.40 89.04,363.22 89.66,364.06 90.28,364.92 90.89,365.80 91.51,366.70 92.13,367.61 92.75,368.53 93.37,369.46 93.99,370.40 94.61,371.34 95.23,372.27 95.84,373.21 96.46,374.13 97.08,375.04 97.70,375.94 98.32,376.82 98.94,377.69 99.56,378.54 100.18,379.39 100.79,380.21 101.41,381.03 102.03,381.83 102.65,382.62 103.27,383.40 103.89,384.18 104.51,384.93 105.13,385.67 105.75,386.40 106.36,387.10 106.98,387.78 107.60,388.44 108.22,389.08 108.84,389.68 109.46,390.26 110.08,390.80 110.70,391.32 111.31,391.81 111.93,392.26 112.55,392.69 113.17,393.08 113.79,393.45 114.41,393.79 115.03,394.10 115.65,394.40 116.26,394.67 116.88,394.91 117.50,395.14 118.12,395.34 118.74,395.52 119.36,395.70 119.98,395.85 120.60,395.98 121.22,396.10 121.83,396.20 122.45,396.29 123.07,396.37 123.69,396.44 124.31,396.50 124.93,396.55 125.55,396.59 126.17,396.62 126.78,396.65 127.40,396.69 128.02,396.71 128.64,396.73 129.26,396.74 129.88,396.76 130.50,396.78 131.12,396.79 131.73,396.80 132.35,396.81 132.97,396.82 133.59,396.83 134.21,396.83 134.83,396.84 135.45,396.84 136.07,396.84 136.69,396.85 137.30,396.85 137.92,396.85 138.54,396.86 139.16,396.86 139.78,396.86 140.40,396.86 141.02,396.86 141.64,396.86 142.25,396.86 142.87,396.86 143.49,396.86 144.11,396.86 144.73,396.86 145.35,396.86 145.97,396.86 146.59,396.86 147.20,396.86 147.82,396.86 148.44,396.86 149.06,396.86 149.68,396.86 150.30,396.86 150.92,396.86 151.54,396.86 152.16,396.86 152.77,396.86 153.39,396.86 154.01,396.86 154.63,396.86 155.25,396.86 155.87,396.86 156.49,396.86 157.11,396.86 157.72,396.86 158.34,396.86 158.96,396.86 159.58,396.86 160.20,396.86 160.82,396.86 161.44,396.86 162.06,396.86 162.67,396.86 163.29,396.86 163.91,396.86 164.53,396.86 165.15,396.86 165.77,396.86 166.39,396.86 167.01,396.86 167.62,396.86 168.24,396.86 168.86,396.86 169.48,396.86 170.10,396.86 170.41,309.33 170.56,310.80 170.72,312.31 170.87,313.85 171.03,315.44 171.18,317.09 171.34,318.75 171.49,320.42 171.65,322.17 171.80,323.96 171.96,325.66 172.11,327.20 172.27,328.44 172.42,329.48 172.58,330.41 172.73,331.26 172.88,332.01 173.04,332.69 173.19,333.29 173.35,333.81 173.50,334.28 173.66,334.70 173.81,335.09 173.97,335.46 174.12,335.82 174.28,336.16 174.43,336.49 174.59,336.78 174.74,337.06 174.90,337.28 175.05,337.48 175.21,337.67 175.36,337.84 175.51,338.00 175.67,338.15 175.82,338.29 175.98,338.43 176.13,338.55 176.29,338.66 176.44,338.76 176.60,338.86 176.75,338.96 176.91,339.05 177.06,339.13 177.22,339.22 177.37,339.30 177.53,339.37 177.68,339.45 177.84,339.52 178.45,339.79 179.07,340.06 179.69,340.33 180.31,340.61 180.93,340.90 181.55,341.20 182.17,341.50 182.79,341.82 183.40,342.14 184.02,342.47 184.64,342.81 185.26,343.16 185.88,343.52 186.50,343.89 187.12,344.27 187.74,344.67 188.35,345.07 188.97,345.50 189.59,345.92 190.21,346.37 190.83,346.82 191.45,347.29 192.07,347.77 192.69,348.27 193.31,348.78 193.92,349.30 194.54,349.84 195.16,350.39 195.78,350.96 196.40,351.53 197.02,352.13 197.64,352.73 198.26,353.34 198.87,353.97 199.49,354.60 200.11,355.25 200.73,355.90 201.35,356.56 201.97,357.23 202.59,357.91 203.21,358.61 203.82,359.33 204.44,360.06 205.06,360.82 205.68,361.60 206.30,362.40 206.92,363.22 207.54,364.06 208.16,364.92 208.78,365.80 209.39,366.70 210.01,367.61 210.63,368.53 211.25,369.46 211.87,370.40 212.49,371.34 213.11,372.27 213.73,373.21 214.34,374.13 214.96,375.04 215.58,375.94 216.20,376.82 216.82,377.69 217.44,378.54 218.06,379.39 218.68,380.21 219.29,381.03 219.91,381.83 220.53,382.62 221.15,383.40 221.77,384.18 222.39,384.93 223.01,385.67 223.63,386.40 224.25,387.10 224.86,387.78 225.48,388.44 226.10,389.08 226.72,389.68 227.34,390.26 227.96,390.80 228.58,391.32 229.20,391.81 229.81,392.26 230.43,392.69 231.05,393.08 231.67,393.45 232.29,393.79 232.91,394.10 233.53,394.40 234.15,394.67 234.76,394.91 235.38,395.14 236.00,395.34 236.62,395.52 237.24,395.70 237.86,395.85 238.48,395.98 239.10,396.10 239.72,396.20 240.33,396.29 240.95,396.37 241.57,396.44 242.19,396.50 242.81,396.55 243.43,396.59 244.05,396.62 244.67,396.65 245.28,396.69 245.90,396.71 246.52,396.73 247.14,396.74 247.76,396.76 248.38,396.78 249.00,396.79 249.62,396.80 250.23,396.81 250.85,396.82 251.47,396.83 252.09,396.83 252.71,396.84 253.33,396.84 253.95,396.84 254.57,396.85 255.19,396.85 255.80,396.85 256.42,396.86 257.04,396.86 257.66,396.86 258.28,396.86 258.90,396.86 259.52,396.86 260.14,396.86 260.75,396.86 261.37,396.86 261.99,396.86 262.61,396.86 263.23,396.86 263.85,396.86 264.47,396.86 265.09,396.86 265.70,396.86 266.32,396.86 266.94,396.86 267.56,396.86 268.18,396.86 268.80,396.86 269.42,396.86 270.04,396.86 270.66,396.86 271.27,396.86 271.89,396.86 272.51,396.86 273.13,396.86 273.75,396.86 274.37,396.86 274.99,396.86 275.17,396.86 275.48,310.07 275.64,311.68 275.79,313.35 275.95,315.08 276.10,316.88 276.26,318.72 276.41,320.74 276.56,322.95 276.72,325.14 276.87,327.14 277.03,328.73 277.18,329.83 277.34,330.76 277.49,331.58 277.65,332.30 277.80,332.91 277.96,333.46 278.11,333.93 278.27,334.33 278.42,334.69 278.58,335.01 278.73,335.31 278.89,335.63 279.04,335.94 279.19,336.26 279.35,336.58 279.50,336.88 279.66,337.17 279.81,337.44 279.97,337.66 280.12,337.86 280.28,338.04 280.43,338.19 280.59,338.35 280.74,338.49 280.90,338.62 281.05,338.75 281.21,338.87 281.36,338.99 281.52,339.10 281.67,339.21 281.82,339.32 281.98,339.42 282.13,339.53 282.29,339.64 282.44,339.74 282.60,339.84 282.75,339.94 282.91,340.03 283.53,340.40 284.15,340.76 284.76,341.12 285.38,341.49 286.00,341.87 286.62,342.25 287.24,342.65 287.86,343.05 288.48,343.46 289.10,343.88 289.71,344.30 290.33,344.74 290.95,345.20 291.57,345.67 292.19,346.16 292.81,346.66 293.43,347.18 294.05,347.72 294.66,348.28 295.28,348.85 295.90,349.44 296.52,350.04 297.14,350.65 297.76,351.28 298.38,351.91 299.00,352.57 299.62,353.22 300.23,353.89 300.85,354.57 301.47,355.26 302.09,355.96 302.71,356.67 303.33,357.39 303.95,358.13 304.57,358.86 305.18,359.62 305.80,360.38 306.42,361.16 307.04,361.95 307.66,362.75 308.28,363.58 308.90,364.43 309.52,365.30 310.13,366.18 310.75,367.09 311.37,368.01 311.99,368.95 312.61,369.91 313.23,370.86 313.85,371.82 314.47,372.77 315.09,373.71 315.70,374.63 316.32,375.53 316.94,376.41 317.56,377.27 318.18,378.12 318.80,378.93 319.42,379.73 320.04,380.52 320.65,381.29 321.27,382.04 321.89,382.79 322.51,383.50 323.13,384.21 323.75,384.91 324.37,385.58 324.99,386.25 325.60,386.89 326.22,387.51 326.84,388.12 327.46,388.70 328.08,389.26 328.70,389.81 329.32,390.33 329.94,390.84 330.56,391.32 331.17,391.78 331.79,392.21 332.41,392.61 333.03,392.99 333.65,393.35 334.27,393.68 334.89,393.98 335.51,394.25 336.12,394.52 336.74,394.75 337.36,394.96 337.98,395.16 338.60,395.34 339.22,395.51 339.84,395.65 340.46,395.78 341.07,395.89 341.69,396.00 342.31,396.09 342.93,396.18 343.55,396.25 344.17,396.32 344.79,396.38 345.41,396.43 346.03,396.48 346.64,396.52 347.26,396.56 347.88,396.60 348.50,396.64 349.12,396.67 349.74,396.69 350.36,396.72 350.98,396.74 351.59,396.77 352.21,396.79 352.83,396.80 353.45,396.82 354.07,396.83 354.69,396.84 355.31,396.84 355.93,396.85 356.54,396.85 357.16,396.86 357.78,396.86 358.40,396.86 359.02,396.86 359.64,396.86 360.26,396.86 360.88,396.86 361.50,396.86 362.11,396.86 362.73,396.86 363.35,396.86 363.97,396.86 364.59,396.86 365.21,396.86 365.83,396.86 366.45,396.86 367.06,396.86 367.68,396.86 367.99,396.86 368.30,309.90 368.46,311.18 368.61,312.55 368.77,313.98 368.92,315.51 369.08,317.16 369.23,318.82 369.38,320.48 369.54,322.25 369.69,324.05 369.85,325.76 370.00,327.30 370.16,328.55 370.31,329.57 370.47,330.49 370.62,331.31 370.78,332.06 370.93,332.72 371.09,333.33 371.24,333.89 371.40,334.38 371.55,334.83 371.71,335.25 371.86,335.64 372.01,336.02 372.17,336.40 372.32,336.74 372.48,337.06 372.63,337.36 372.79,337.62 372.94,337.86 373.10,338.07 373.25,338.28 373.41,338.47 373.56,338.66 373.72,338.83 373.87,338.99 374.03,339.14 374.18,339.29 374.34,339.43 374.49,339.57 374.64,339.70 374.80,339.83 374.95,339.94 375.11,340.06 375.26,340.17 375.42,340.29 375.57,340.40 375.73,340.50 376.35,340.95 376.97,341.40 377.58,341.87 378.20,342.36 378.82,342.85 379.44,343.33 380.06,343.83 380.68,344.31 381.30,344.79 381.92,345.28 382.53,345.78 383.15,346.27 383.77,346.77 384.39,347.28 385.01,347.80 385.63,348.33 386.25,348.88 386.87,349.44 387.48,350.02 388.10,350.61 388.72,351.22 389.34,351.85 389.96,352.48 390.58,353.14 391.20,353.81 391.82,354.50 392.44,355.21 393.05,355.92 393.67,356.65 394.29,357.39 394.91,358.14 395.53,358.90 396.15,359.67 396.77,360.44 397.39,361.23 398.00,362.01 398.62,362.81 399.24,363.61 399.86,364.42 400.48,365.24 401.10,366.06 401.72,366.90 402.34,367.75 402.95,368.60 403.57,369.46 404.19,370.34 404.81,371.22 405.43,372.10 406.05,372.98 406.67,373.88 407.29,374.76 407.91,375.64 408.52,376.52 409.14,377.38 409.76,378.23 410.38,379.06 411.00,379.88 411.62,380.68 412.24,381.47 412.86,382.22 413.47,382.97 414.09,383.69 414.71,384.40 415.33,385.10 415.95,385.76 416.57,386.42 417.19,387.06 417.81,387.67 418.42,388.26 419.04,388.82 419.66,389.34 420.28,389.84 420.90,390.31 421.52,390.75 422.14,391.16 422.76,391.55 423.38,391.91 423.99,392.26 424.61,392.58 425.23,392.89 425.85,393.19 426.47,393.47 427.09,393.73 427.71,393.99 428.33,394.22 428.94,394.43 429.56,394.63 430.18,394.81 430.80,394.97 431.42,395.12 432.04,395.26 432.66,395.38 433.28,395.50 433.89,395.61 434.51,395.70 435.13,395.80 435.75,395.89 436.37,395.99 436.99,396.07 437.61,396.15 438.23,396.23 438.85,396.30 439.46,396.37 440.08,396.44 440.70,396.50 441.32,396.55 441.94,396.60 442.56,396.65 443.18,396.69 443.80,396.73 444.41,396.76 445.03,396.79 445.65,396.81 446.27,396.83 446.89,396.84 447.51,396.84 448.13,396.85 448.56,396.85 448.87,310.56 449.02,312.16 449.18,313.82 449.33,315.53 449.49,317.31 449.64,319.14 449.80,321.14 449.95,323.31 450.11,325.48 450.26,327.45 450.42,329.04 450.57,330.18 450.73,331.16 450.88,332.02 451.04,332.79 451.19,333.48 451.34,334.08 451.50,334.62 451.65,335.10 451.81,335.54 451.96,335.93 452.12,336.29 452.27,336.61 452.43,336.92 452.58,337.21 452.74,337.49 452.89,337.77 453.05,338.04 453.20,338.29 453.36,338.54 453.51,338.78 453.67,339.00 453.82,339.22 453.97,339.42 454.13,339.60 454.28,339.79 454.44,339.96 454.59,340.12 454.75,340.27 454.90,340.41 455.06,340.56 455.21,340.69 455.37,340.83 455.52,340.95 455.68,341.07 455.83,341.20 455.99,341.31 456.14,341.43 456.30,341.54 456.91,341.98 457.53,342.41 458.15,342.86 458.77,343.34 459.39,343.84 460.01,344.36 460.63,344.90 461.25,345.45 461.86,346.01 462.48,346.58 463.10,347.15 463.72,347.73 464.34,348.33 464.96,348.93 465.58,349.53 466.20,350.15 466.81,350.77 467.43,351.39 468.05,352.01 468.67,352.65 469.29,353.28 469.91,353.93 470.53,354.57 471.15,355.22 471.77,355.87 472.38,356.53 473.00,357.21 473.62,357.89 474.24,358.59 474.86,359.30 475.48,360.03 476.10,360.78 476.72,361.56 477.33,362.35 477.95,363.16 478.57,363.98 479.19,364.83 479.81,365.68 480.43,366.55 481.05,367.42 481.67,368.30 482.28,369.17 482.90,370.06 483.52,370.95 484.14,371.84 484.76,372.73 485.38,373.61 486.00,374.50 486.62,375.39 487.24,376.27 487.85,377.15 488.47,378.03 489.09,378.90 489.71,379.77 490.33,380.62 490.95,381.47 491.57,382.31 492.19,383.13 492.80,383.93 493.42,384.72 494.04,385.50 494.66,386.26 495.28,386.99 495.90,387.71 496.52,388.40 497.14,389.06 497.75,389.68 498.37,390.28 498.99,390.82 499.61,391.33 500.23,391.80 500.85,392.23 501.47,392.62 502.09,392.98 502.71,393.31 503.32,393.62 503.94,393.91 504.56,394.17 505.18,394.41 505.80,394.64 506.42,394.86 507.04,395.06 507.66,395.24 508.27,395.42 508.89,395.59 509.51,395.74 510.13,395.88 510.75,396.00 511.37,396.11 511.99,396.22 512.61,396.31 513.22,396.38 513.84,396.46 514.46,396.51 515.08,396.56 515.70,396.60 516.32,396.64 516.50,396.65 516.81,313.70 516.97,315.14 517.12,316.64 517.28,318.19 517.43,319.80 517.59,321.45 517.74,323.15 517.90,324.87 518.05,326.62 518.21,328.45 518.36,330.22 518.52,331.71 518.67,333.08 518.82,334.18 518.98,334.89 519.13,335.48 519.29,336.00 519.44,336.46 519.60,336.87 519.75,337.24 519.91,337.58 520.06,337.88 520.22,338.17 520.37,338.45 520.53,338.72 520.68,338.98 520.84,339.23 520.99,339.46 521.15,339.68 521.30,339.89 521.45,340.09 521.61,340.29 521.76,340.48 521.92,340.66 522.07,340.83 522.23,341.01 522.38,341.18 522.54,341.34 522.69,341.50 522.85,341.66 523.00,341.82 523.16,341.96 523.31,342.11 523.47,342.25 523.62,342.39 523.78,342.53 523.93,342.67 524.08,342.80 524.24,342.93 524.86,343.42 525.48,343.89 526.10,344.33 526.71,344.76 527.33,345.18 527.95,345.61 528.57,346.06 529.19,346.53 529.81,347.02 530.43,347.53 531.05,348.06 531.67,348.63 532.28,349.22 532.90,349.84 533.52,350.50 534.14,351.17 534.76,351.87 535.38,352.60 536.00,353.34 536.62,354.10 537.23,354.88 537.85,355.67 538.47,356.46 539.09,357.26 539.71,358.08 540.33,358.89 540.95,359.72 541.57,360.55 542.18,361.39 542.80,362.24 543.42,363.10 544.04,363.96 544.66,364.83 545.28,365.70 545.90,366.57 546.52,367.45 547.14,368.33 547.75,369.21 548.37,370.10 548.99,370.98 549.61,371.85 550.23,372.74 550.85,373.61 551.47,374.49 552.09,375.37 552.70,376.24 553.32,377.13 553.94,378.00 554.56,378.88 555.18,379.75 555.80,380.62 556.42,381.47 557.04,382.32 557.65,383.13 558.27,383.92 558.89,384.69 559.51,385.43 560.13,386.14 560.75,386.82 561.37,387.46 561.99,388.08 562.61,388.68 563.22,389.25 563.84,389.79 564.46,390.32 565.08,390.82 565.70,391.30 566.32,391.77 566.94,392.22 567.56,392.64 568.17,393.04 568.79,393.42 569.41,393.77 570.03,394.08 570.65,394.37 571.27,394.63 571.79,394.83 572.57,326.90 572.72,328.47 572.88,329.91 573.03,331.18 573.19,332.26 573.34,333.19 573.50,334.01 573.65,334.74 573.81,335.35 573.96,335.85 574.11,336.31 574.27,336.72 574.42,337.10 574.58,337.44 574.73,337.74 574.89,338.03 575.04,338.28 575.20,338.52 575.35,338.74 575.51,338.94 575.66,339.14 575.82,339.32 575.97,339.49 576.13,339.65 576.28,339.82 576.44,339.98 576.59,340.13 576.74,340.30 576.90,340.46 577.05,340.63 577.21,340.80 577.36,340.97 577.52,341.14 577.67,341.31 577.83,341.48 577.98,341.65 578.14,341.82 578.29,341.98 578.45,342.15 578.60,342.31 578.76,342.48 578.91,342.63 579.07,342.80 579.22,342.96 579.37,343.12 579.53,343.28 579.68,343.45 579.84,343.61 579.99,343.77 580.61,344.41 581.23,345.06 581.85,345.71 582.47,346.37 583.09,347.03 583.71,347.69 584.32,348.36 584.94,349.03 585.56,349.70 586.18,350.37 586.80,351.06 587.42,351.73 588.04,352.42 588.66,353.10 589.28,353.79 589.89,354.49 590.51,355.18 591.13,355.89 591.75,356.60 592.37,357.32 592.99,358.04 593.61,358.79 594.23,359.54 594.84,360.30 595.46,361.08 596.08,361.88 596.70,362.69 597.32,363.51 597.94,364.34 598.56,365.19 599.18,366.04 599.79,366.90 600.41,367.77 601.03,368.64 601.65,369.52 602.27,370.40 602.89,371.28 603.51,372.18 604.13,373.06 604.75,373.95 605.36,374.82 605.98,375.70 606.60,376.57 607.22,377.43 607.84,378.28 608.46,379.12 609.08,379.95 609.70,380.77 610.31,381.58 610.93,382.37 611.55,383.16 612.17,383.92 612.79,384.68 613.41,385.43 614.03,386.14 614.65,386.85 615.26,387.55 615.88,388.21 616.50,388.86 617.12,389.47 617.74,390.05 618.36,390.61 618.98,391.13 619.60,391.62 620.22,392.08 620.83,392.52 621.45,392.92 622.07,393.30 622.69,393.66 623.31,393.99 623.93,394.29 624.55,394.57 625.17,394.84 625.78,395.08 626.40,395.30 627.02,395.50 627.64,395.68 628.26,395.85 628.88,395.99 629.50,396.12 630.12,396.23 630.73,396.32 631.35,396.40 631.97,396.46 632.59,396.51 633.21,396.55 633.83,396.60 634.45,396.63 635.07,396.66 635.69,396.69 636.30,396.71 636.92,396.74 637.54,396.75 638.16,396.77 638.78,396.79 639.40,396.80 640.02,396.82 640.64,396.83 641.25,396.84 641.87,396.84 642.49,396.85 643.11,396.85 643.73,396.85 644.35,396.86 644.97,396.86 645.59,396.86 646.20,396.86 646.82,396.86 647.44,396.86 648.06,396.86 648.68,396.86 649.30,396.86 649.92,396.86 650.54,396.86 651.16,396.86 651.77,396.86 652.39,396.86 653.01,396.86 653.63,396.86 654.25,396.86 654.87,396.86 655.49,396.86 656.11,396.86 656.72,396.86 657.34,396.86 657.96,396.86 658.58,396.86 659.20,396.86 659.82,396.86 660.44,396.86 661.06,396.86 661.67,396.86 662.29,396.86 662.91,396.86 663.53,396.86 664.15,396.86 664.77,396.86 665.39,396.86 666.01,396.86 666.63,396.86 667.24,396.86 667.86,396.86 668.48,396.86 669.10,396.86 669.72,396.86 670.34,396.86 670.96,396.86 671.02,396.86" fill="none" stroke="#0000ff" stroke-width="1.6" stroke-linejoin="round"/>
<text x="42.1" y="302.50" font-size="13.33" text-anchor="end" fill="#262626">40</text>
<text x="42.1" y="335.50" font-size="13.33" text-anchor="end" fill="#262626">0</text>
<text x="42.1" y="368.50" font-size="13.33" text-anchor="end" fill="#262626">-40</text>
<text x="42.1" y="401.50" font-size="13.33" text-anchor="end" fill="#262626">-80</text>
<text x="51.60" y="416.90" font-size="13.33" text-anchor="middle" fill="#262626">4000</text>
<text x="113.48" y="416.90" font-size="13.33" text-anchor="middle" fill="#262626">4200</text>
<text x="175.36" y="416.90" font-size="13.33" text-anchor="middle" fill="#262626">4400</text>
<text x="237.24" y="416.90" font-size="13.33" text-anchor="middle" fill="#262626">4600</text>
<text x="299.12" y="416.90" font-size="13.33" text-anchor="middle" fill="#262626">4800</text>
<text x="361.00" y="416.90" font-size="13.33" text-anchor="middle" fill="#262626">5000</text>
<text x="422.88" y="416.90" font-size="13.33" text-anchor="middle" fill="#262626">5200</text>
<text x="484.76" y="416.90" font-size="13.33" text-anchor="middle" fill="#262626">5400</text>
<text x="546.64" y="416.90" font-size="13.33" text-anchor="middle" fill="#262626">5600</text>
<text x="608.52" y="416.90" font-size="13.33" text-anchor="middle" fill="#262626">5800</text>
<text x="670.40" y="416.90" font-size="13.33" text-anchor="middle" fill="#262626">6000</text>
<text x="358.2" y="434.5" font-size="14.67" text-anchor="middle" fill="#262626">Time [ms]</text>
<text transform="translate(11.4 349.1) rotate(-90)" font-size="14.67" text-anchor="middle" fill="#262626">Voltage [mV]</text>
<text x="357.8" y="291.0" font-size="14.67" font-weight="bold" text-anchor="middle" fill="#000">Global Protocol</text></g>
</svg>
</body></html>
